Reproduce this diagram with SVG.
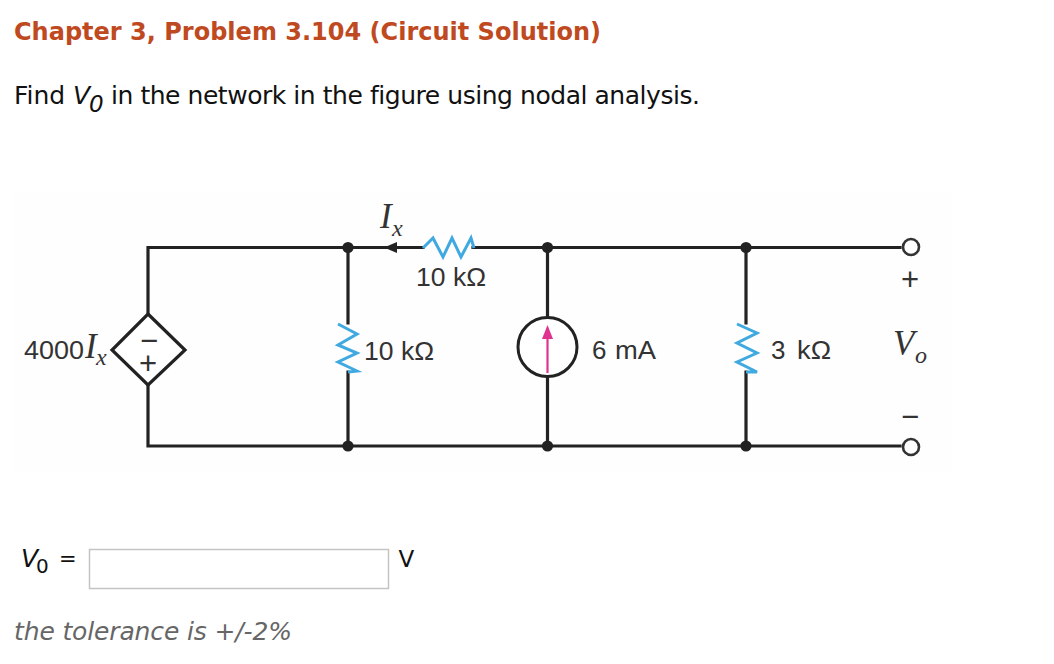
<svg xmlns="http://www.w3.org/2000/svg" width="1054" height="664" viewBox="0 0 1054 664">
<style>
text{font-family:"DejaVu Sans",Verdana,sans-serif;fill:#111;font-variant-ligatures:none}
.w{fill:none;stroke:#222;stroke-width:3.2;stroke-linecap:square}
.r{fill:none;stroke:#3fa9e0;stroke-width:3}
.d{fill:#222}
.t{fill:#fff;stroke:#333;stroke-width:2.6}
.c{font-family:"Liberation Sans",Arial,sans-serif;font-size:26px;fill:#333}
.s{font-family:"Liberation Sans",Arial,sans-serif;font-size:31px;fill:#333;text-anchor:middle}
.m{font-family:"Liberation Serif","Times New Roman",serif;font-style:italic;fill:#333}
</style>
<rect width="1054" height="664" fill="#fff"/>
<rect x="14" y="191" width="938" height="282" fill="#fefefe"/>
<text id="title" x="14" y="40" font-size="24" font-weight="700" textLength="587" lengthAdjust="spacingAndGlyphs" style="fill:#c04a1f">Chapter 3, Problem 3.104 (Circuit Solution)</text>
<text id="question" y="104" font-size="25"><tspan x="14">Find </tspan><tspan x="73" font-style="italic">V</tspan><tspan x="89" font-style="italic" font-size="23" dy="8">0</tspan><tspan x="111" dy="-8" textLength="589" lengthAdjust="spacing">in the network in the figure using nodal analysis.</tspan></text>
<g id="connectors">
<path class="w" d="M148 314V247.500H423M473 247.500H900M348 247.500V323M348 372V446M547.500 247.500V317M547.500 377V446M746 247.500V323M746 372V446M148 385V446H900"/>
</g>
<g id="source-dependent">
<path d="M148 314L185 350L148 385L112 350Z" fill="#fff" stroke="#222" stroke-width="3.2"/>
<text class="s"><tspan x="149" y="351">−</tspan><tspan x="148" y="374">+</tspan></text>
<text class="c" x="24" y="359" textLength="60" lengthAdjust="spacingAndGlyphs">4000</text>
<text class="m" x="85" y="358" font-size="35">I</text>
<text class="m" x="96" y="365" font-size="24">x</text>
</g>
<g id="resistor-series">
<path class="r" d="M423 248L433 238L443 257L452 238L461 257L471 238L474 248"/>
<path d="M384 247.500L397 242V253Z" class="d"/>
<text class="m" x="380" y="228" font-size="35">I</text>
<text class="m" x="392" y="236" font-size="24">x</text>
<text class="c" x="416" y="286" textLength="70" lengthAdjust="spacingAndGlyphs">10 kΩ</text>
</g>
<g id="resistor-shunt">
<path class="r" d="M338 324L357 334L338 345L357 353L338 362L357 371L348 372"/>
<text class="c" x="364" y="360" textLength="70" lengthAdjust="spacingAndGlyphs">10 kΩ</text>
</g>
<g id="current-source">
<circle cx="547.500" cy="347" r="29.500" fill="#fff" stroke="#222" stroke-width="3"/>
<path d="M547.500 373V336" stroke="#e0338f" stroke-width="2.200" fill="none"/>
<path d="M547.500 325L553 339H542Z" fill="#e0338f"/>
<text class="c" x="592" y="359">6</text>
<text class="c" x="615" y="359" textLength="41" lengthAdjust="spacingAndGlyphs">mA</text>
</g>
<g id="resistor-load">
<path class="r" d="M737 324L757 333L737 343L757 353L737 362L757 372L746 372"/>
<text class="c" x="771" y="359">3</text>
<text class="c" x="797" y="359" textLength="34" lengthAdjust="spacingAndGlyphs">kΩ</text>
</g>
<g id="junctions">
<circle class="d" cx="348" cy="247.500" r="5.600"/><circle class="d" cx="547.500" cy="247.500" r="5.600"/><circle class="d" cx="746" cy="247.500" r="5.600"/>
<circle class="d" cx="348" cy="446" r="5.600"/><circle class="d" cx="547.500" cy="446" r="5.600"/><circle class="d" cx="746" cy="446" r="5.600"/>
</g>
<g id="terminal-top"><circle class="t" cx="911" cy="247" r="8"/></g>
<g id="terminal-bottom"><circle class="t" cx="911" cy="447" r="8"/></g>
<g id="output-label">
<text class="s" x="910" y="290">+</text>
<text class="m" x="893" y="355" font-size="35">V</text>
<text class="m" x="915" y="363" font-size="24">o</text>
<text class="s" x="910" y="427">−</text>
</g>
<g id="answer">
<text x="21" y="567" font-size="25" font-style="italic">V</text>
<text x="36" y="573" font-size="20">0</text>
<text x="59" y="566" font-size="21">=</text>
<rect x="89.500" y="549.500" width="299" height="39" fill="#fff" stroke="#c4c4c4" stroke-width="1.500"/>
<text x="398.500" y="567" font-size="23">V</text>
</g>
<text id="tolerance" x="14" y="640" font-size="25" font-style="italic" style="fill:#666" textLength="278" lengthAdjust="spacing">the tolerance is +/-2%</text>
</svg>
